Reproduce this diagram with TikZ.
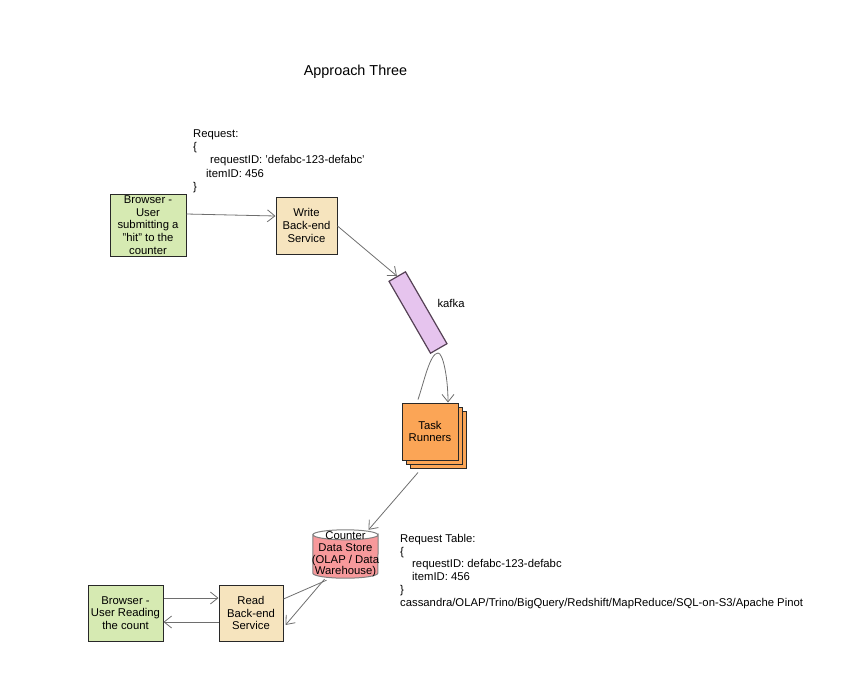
\documentclass[tikz,border=0pt]{standalone}
\usepackage{fontspec}
\setmainfont{Liberation Sans}
\usetikzlibrary{arrows.meta,calc}
\definecolor{browsergreen}{RGB}{214,234,178}
\definecolor{servicewheat}{RGB}{246,228,190}
\definecolor{kafkalav}{RGB}{230,196,238}
\definecolor{kafkaborder}{RGB}{85,65,85}
\definecolor{taskorange}{RGB}{251,165,86}
\definecolor{dbpink}{RGB}{247,153,155}
\definecolor{edgegray}{RGB}{110,110,110}
\definecolor{boxborder}{RGB}{40,40,40}
\begin{document}
\begin{tikzpicture}[x=1pt,y=-1pt,
  boxfont/.style={font=\fontsize{11.3}{12.6}\selectfont},
  box/.style={draw=boxborder, line width=1pt, align=center, boxfont, inner sep=1pt},
  browserbox/.style={box, fill=browsergreen},
  servicebox/.style={box, fill=servicewheat},
  taskbox/.style={box, fill=taskorange, minimum width=56pt, minimum height=57pt},
  edge/.style={draw=edgegray, line width=0.8pt},
  arr/.style={edge, -{Straight Barb[length=7.5pt,width=12pt]}},
  notetext/.style={align=left, inner sep=0pt, font=\fontsize{11.3}{13.2}\selectfont}
]
\useasboundingbox (0,0) rectangle (846,697);

% title
\node[font=\fontsize{14.4}{16}\selectfont] (title) at (355.5,72) {Approach Three};

% request text
\node[notetext, anchor=north west] (reqtext) at (193,129.5) {Request:\\
{\{}\\
\hspace{17pt}requestID: 'defabc-123-defabc'\\
\hspace{13pt}itemID: 456\\
\}};

% top flow
\node[browserbox, minimum width=76pt, minimum height=62pt] (browser1) at (148,225)
  {Browser -\\User\\submitting a\\"hit" to the\\counter};
\node[servicebox, minimum width=61pt, minimum height=57pt] (write) at (306.5,225.5)
  {Write\\Back-end\\Service};

\node[draw=kafkaborder, line width=1.2pt, fill=kafkalav, minimum width=83pt,
  minimum height=19pt, inner sep=0pt, rotate=-60] (kafka) at (418,312.5) {};
\node[boxfont, anchor=west] (kafkalabel) at (434,303) {kafka};

% task runners (stacked)
\node[taskbox] (tr3) at (438,439.5) {};
\node[taskbox] (tr2) at (434,435.5) {};
\node[taskbox] (tr) at (430,431.5) {Task\\Runners};

% data store cylinder
\node[minimum width=65pt, minimum height=48pt, inner sep=0pt] (db) at (345.5,554) {};
\path[draw=gray, line width=1pt, fill=dbpink]
  ($(db.north west)+(0,5)$) -- ($(db.south west)+(0,-5)$)
  arc[start angle=180, end angle=360, x radius=32.5pt, y radius=5pt]
  -- ($(db.north east)+(0,5)$)
  arc[start angle=0, end angle=180, x radius=32.5pt, y radius=-5pt] -- cycle;
\draw[gray, line width=1pt] ($(db.north west)+(0,5)$)
  arc[start angle=180, end angle=360, x radius=32.5pt, y radius=-5pt];
\node[align=center, inner sep=0pt, font=\fontsize{11.3}{11.7}\selectfont] (dblabel) at (345.5,554.5)
  {Counter\\Data Store\\(OLAP / Data\\Warehouse)};

% request table text
\node[notetext, anchor=north west, font=\fontsize{11.3}{12.8}\selectfont] (tabletext) at (400,534) {Request Table:\\
{\{}\\
\hspace{12pt}requestID: defabc-123-defabc\\
\hspace{12pt}itemID: 456\\
\}\\
cassandra/OLAP/Trino/BigQuery/Redshift/MapReduce/SQL-on-S3/Apache Pinot};

% bottom flow
\node[browserbox, minimum width=75pt, minimum height=56pt] (browser2) at (125.5,613)
  {Browser -\\User Reading\\the count};
\node[servicebox, minimum width=64pt, minimum height=56pt] (read) at (251,613)
  {Read\\Back-end\\Service};

% connectors
\draw[arr] ($(browser1.east)+(0,-11)$) -- ($(write.west)+(0,-9.5)$);
\draw[arr] ($(write.east)+(0,0.5)$) -- (kafka.west);
\draw[arr] ($(tr.north)+(-12,-3)$) .. controls (424,382) and (430,353) .. ($(kafka.east)+(-1,4)$)
  .. controls (443,353) and (448,378) .. ($(tr.north)+(18,0)$);
\draw[arr] ($(tr.south)+(-12,12)$) -- ($(db.north)+(23,0)$);
\draw[edge] ($(db.south)+(-19,2)$) -- ($(read.east)+(0,-14)$);
\draw[arr] ($(db.south)+(-21,1)$) -- ($(read.east)+(2,12)$);
\draw[arr] ($(browser2.east)+(0,-15)$) -- ($(read.west)+(0,-15)$);
\draw[arr] ($(read.west)+(0,9)$) -- ($(browser2.east)+(0,9)$);
\end{tikzpicture}
\end{document}
